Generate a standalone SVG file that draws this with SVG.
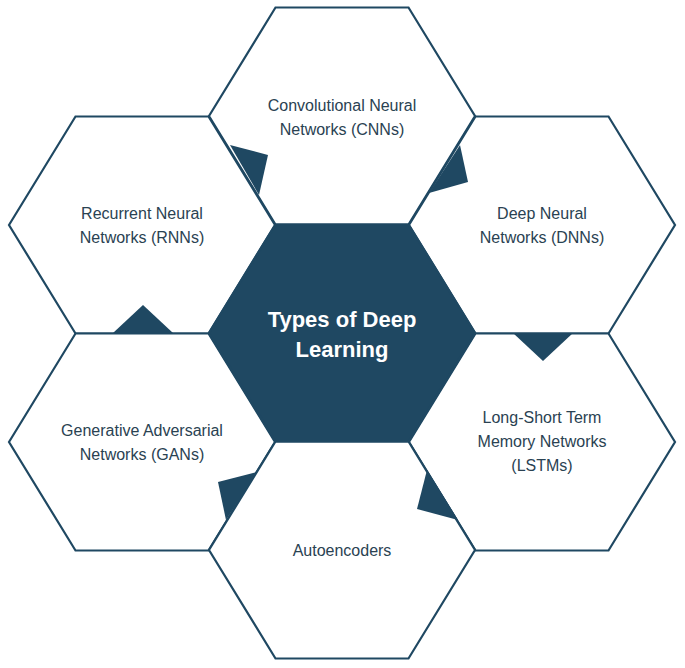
<svg xmlns="http://www.w3.org/2000/svg" width="685" height="668" viewBox="0 0 685 668">
<style>
.hex{fill:#fff;stroke:#1f4862;stroke-width:2.2}
.t{font-family:"Liberation Sans",Arial,sans-serif;font-size:16px;fill:#2a4252;text-anchor:middle}
.c{font-family:"Liberation Sans",Arial,sans-serif;font-size:22px;font-weight:bold;fill:#fff;text-anchor:middle}
.tri{fill:#1f4862}
</style>
<defs><polygon id="h" points="-133,0 -66.5,-108.5 66.5,-108.5 133,0 66.5,108.5 -66.5,108.5"/></defs>
<rect width="685" height="668" fill="#fff"/>
<g id="cnn"><use href="#h" class="hex" x="342" y="116"/><text class="t" x="342" y="111">Convolutional Neural</text><text class="t" x="342" y="135">Networks (CNNs)</text></g>
<g id="rnn"><use href="#h" class="hex" x="142" y="225"/><text class="t" x="142" y="219">Recurrent Neural</text><text class="t" x="142" y="243">Networks (RNNs)</text></g>
<g id="dnn"><use href="#h" class="hex" x="542" y="225"/><text class="t" x="542" y="219">Deep Neural</text><text class="t" x="542" y="243">Networks (DNNs)</text></g>
<g id="gan"><use href="#h" class="hex" x="142" y="442"/><text class="t" x="142" y="436">Generative Adversarial</text><text class="t" x="142" y="460">Networks (GANs)</text></g>
<g id="lstm"><use href="#h" class="hex" x="542" y="442"/><text class="t" x="542" y="423">Long-Short Term</text><text class="t" x="542" y="447">Memory Networks</text><text class="t" x="542" y="471">(LSTMs)</text></g>
<g id="auto"><use href="#h" class="hex" x="342" y="550"/><text class="t" x="342" y="556">Autoencoders</text></g>
<g id="center"><use href="#h" x="342" y="333" fill="#1f4862" stroke="#1f4862" stroke-width="2.2"/><text class="c" x="342" y="327">Types of Deep</text><text class="c" x="342" y="357">Learning</text></g>
<g id="connectors">
<polygon class="tri" points="230,145 268,155 259,195"/>
<polygon class="tri" points="460,145 468,182 429,193"/>
<polygon class="tri" points="113,333 143,305 173,333"/>
<polygon class="tri" points="513,333 543,361 573,333"/>
<polygon class="tri" points="218,482 257,472 226,520"/>
<polygon class="tri" points="427,470 458,520 417,509"/>
</g>
</svg>
